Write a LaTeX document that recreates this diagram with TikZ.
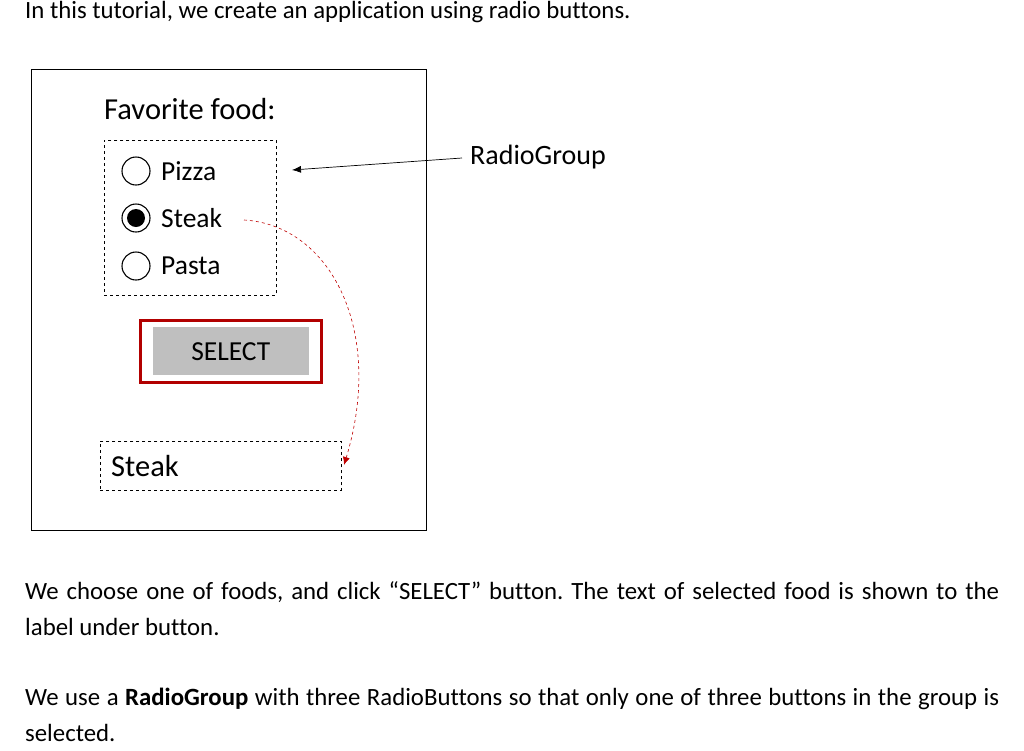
\documentclass[tikz,border=0pt]{standalone}
\usepackage{fontspec}
\setmainfont{Carlito}[Ligatures=NoCommon]
\usetikzlibrary{arrows.meta}
\begin{document}
\frenchspacing
\begin{tikzpicture}[x=1pt,y=-1pt,
  body/.style={anchor=north west,inner sep=0pt,font=\fontsize{24.8}{36}\selectfont,text width=974pt,align=justify},
  gui/.style={inner sep=0pt,font=\fontsize{27.5}{30}\selectfont},
  radio/.style={circle,draw,line width=1.1pt,minimum size=28pt,inner sep=0pt},
  dbox/.style={draw,dashed,line width=0.9pt}]
\useasboundingbox (0,0) rectangle (1024,750);
\node[body,anchor=west,text width=] (intro) at (25,12) {In this tutorial, we create an application using radio buttons.};
\draw[line width=0.8pt] (31,69) rectangle (426,530);
\node[gui,anchor=west,font=\fontsize{30.5}{34}\selectfont] (fav) at (104,109) {Favorite food:};
\node[dbox,minimum width=172pt,minimum height=155pt,anchor=north west] (grp) at (104,140) {};
\node[radio] (r1) at (136,171) {};
\node[radio] (r2) at (136,218) {};
\fill (r2) circle (9pt);
\node[radio] (r3) at (136,266) {};
\node[gui,anchor=west] (t1) at (161,171) {Pizza};
\node[gui,anchor=west] (t2) at (161,218) {Steak};
\node[gui,anchor=west] (t3) at (161,266) {Pasta};
\node[draw=red!70!black,line width=2.5pt,minimum width=181pt,minimum height=62pt,anchor=north west] (selbox) at (139,319) {};
\node[fill=black!25,minimum width=156pt,minimum height=48pt,gui] (sel) at (selbox.center) {SELECT};
\node[dbox,minimum width=241pt,minimum height=49pt,anchor=north west] (lab) at (100,441) {};
\node[gui,anchor=west,font=\fontsize{30.5}{34}\selectfont] (labt) at (111,466) {Steak};
\node[gui,anchor=west,font=\fontsize{28}{30}\selectfont] (rg) at (470,157) {RadioGroup};
\coordinate (rgs) at (462,158);
\coordinate (rge) at (292,170);
\draw[-{Latex[length=9pt,width=7pt]},line width=0.7pt] (rgs) -- (rge);
\coordinate (cs) at (244,220);
\coordinate (ce) at (344,465);
\draw[red!75!black,dashed,line width=0.6pt,-{Latex[length=8pt,width=7pt]}] (cs) .. controls (330,225) and (385,330) .. (ce);
\node[body] (p2) at (25,581) {We choose one of foods, and click “SELECT” button. The text of selected food is shown to the\linebreak label under button.};
\node[body] (p3) at (25,688) {We use a \textbf{RadioGroup} with three RadioButtons so that only one of three buttons in the group is selected.};
\end{tikzpicture}
\end{document}
